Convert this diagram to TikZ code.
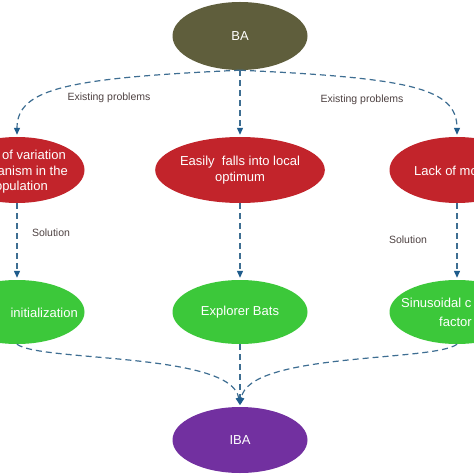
\documentclass[tikz,border=0pt]{standalone}
\usepackage{fontspec}
\setmainfont{Liberation Sans}
\usetikzlibrary{arrows.meta,shapes.geometric}
\definecolor{olivec}{HTML}{5F5E3C}
\definecolor{redc}{HTML}{C2242B}
\definecolor{greenc}{HTML}{3CC83A}
\definecolor{purplec}{HTML}{7230A0}
\definecolor{linec}{HTML}{3E6E92}
\definecolor{tipc}{HTML}{1F5C8C}
\definecolor{labelc}{HTML}{4E4242}
\tikzset{
  bubble/.style={ellipse, minimum width=135bp, minimum height=66bp, inner sep=0pt,
    text=white, font=\fontsize{13bp}{16.5bp}\selectfont, align=center},
  conn/.style={draw=linec, line width=1.2bp, dash pattern=on 6bp off 4bp,
    -{Triangle[width=6bp,length=7bp,color=tipc]}, shorten >=2bp},
  lbl/.style={text=labelc, font=\fontsize{10.5bp}{12bp}\selectfont, inner sep=0pt},
  wtxt/.style={text=white, font=\fontsize{13bp}{16bp}\selectfont, inner sep=0pt}
}
\begin{document}
\begin{tikzpicture}[x=1bp,y=-1bp]
\clip (0,0) rectangle (474,474);
\fill[white] (0,0) rectangle (474,474);
% nodes
\node[bubble, fill=olivec, minimum height=68bp] (ba) at (240,36) {BA};
\node[bubble, fill=redc] (p1) at (17,170) {};
\node[bubble, fill=redc] (p2) at (240,170) {Easily\ \ falls into local\\optimum};
\node[bubble, fill=redc] (p3) at (457,170) {};
\node[bubble, fill=greenc, minimum height=64bp] (s1) at (17,312) {};
\node[bubble, fill=greenc, minimum height=64bp] (s2) at (240,312) {Explorer Bats};
\node[bubble, fill=greenc, minimum height=64bp] (s3) at (457,312) {};
\node[bubble, fill=purplec] (iba) at (240,440) {IBA};
% truncated texts (cut by the picture edge)
\node[wtxt, anchor=east] (t1a) at (66,155) {of variation};
\node[wtxt, anchor=east] (t1b) at (68,171) {anism in the};
\node[wtxt, anchor=east] (t1c) at (48,187) {opulation};
\node[wtxt, anchor=west] (t3a) at (414,171) {Lack of mo};
\node[wtxt, anchor=east] (t4a) at (78,313) {initialization};
\node[wtxt, anchor=west] (t6a) at (401,303) {Sinusoidal c};
\node[wtxt, anchor=west] (t6b) at (439,322) {factor};
% labels
\node[lbl] (e1) at (109,98) {Existing problems};
\node[lbl] (e2) at (362,100) {Existing problems};
\node[lbl] (so1) at (51,233) {Solution};
\node[lbl] (so2) at (408,240) {Solution};
% connectors
\draw[conn] (ba.south) -- (p2.north);
\draw[conn] (ba.south) .. controls (70,78) and (17,88) .. (p1.north);
\draw[conn] (ba.south) .. controls (410,78) and (457,88) .. (p3.north);
\draw[conn] (p1.south) -- (s1.north);
\draw[conn] (p2.south) -- (s2.north);
\draw[conn] (p3.south) -- (s3.north);
\draw[conn] (s2.south) -- (iba.north);
\draw[conn] (s1.south) .. controls (40,362) and (232,352) .. (iba.north);
\draw[conn] (s3.south) .. controls (434,362) and (248,352) .. (iba.north);
\end{tikzpicture}
\end{document}
